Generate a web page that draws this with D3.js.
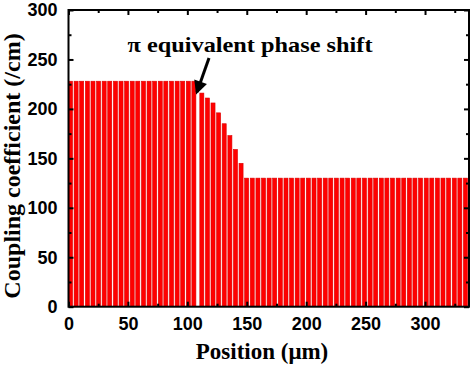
<!DOCTYPE html>
<html>
<head>
<meta charset="utf-8">
<script src="https://cdn.jsdelivr.net/npm/d3@7"></script>
<style>
  html, body { margin: 0; padding: 0; background: #fff; }
  svg { display: block; }
</style>
</head>
<body>
<script>
// grating positions (um) and coupling coefficient (/cm)
const positions = [
    0, 4.7, 9.4, 14.2, 18.9, 23.6, 28.3, 33.0, 37.8, 42.5, 47.2, 51.9,
    56.6, 61.4, 66.1, 70.8, 75.5, 80.2, 85.0, 89.7, 94.4, 99.1, 103.8,
    110.5, 115.2, 119.9, 124.6, 129.3, 134.1, 138.8, 143.5, 148.2, 152.9,
    157.7, 162.4, 167.1, 171.8, 176.5, 181.3, 186.0, 190.7, 195.4, 200.1,
    204.9, 209.6, 214.3, 219.0, 223.7, 228.5, 233.2, 237.9, 242.6, 247.3,
    252.1, 256.8, 261.5, 266.2, 270.9, 275.7, 280.4, 285.1, 289.8, 294.5,
    299.3, 304.0, 308.7, 313.4, 318.1, 322.9, 327.6, 332.3
];
const coupling = [
    228, 228, 228, 228, 228, 228, 228, 228, 228, 228, 228, 228,
    228, 228, 228, 228, 228, 228, 228, 228, 228, 228, 228,
    216, 211, 206, 196, 185, 173, 159, 145, 130, 130,
    130, 130, 130, 130, 130, 130, 130, 130, 130, 130,
    130, 130, 130, 130, 130, 130, 130, 130, 130, 130,
    130, 130, 130, 130, 130, 130, 130, 130, 130, 130,
    130, 130, 130, 130, 130, 130, 130, 130
];
const xTicks = [0, 50, 100, 150, 200, 250, 300];
const xMinor = [25, 75, 125, 175, 225, 275, 325];
const yTicks = [0, 50, 100, 150, 200, 250, 300];
const yMinor = [25, 75, 125, 175, 225, 275];
const barWidth = 3.4; // um

const width = 474, height = 366;
const plotLeft = 68.5, plotRight = 469, plotTop = 10, plotBottom = 306.7;

const svg = d3.select("body")
    .append("svg")
    .attr("width", width)
    .attr("height", height);

const x = d3.scaleLinear().domain([0, 337]).range([plotLeft, plotRight]);
const y = d3.scaleLinear().domain([0, 300]).range([plotBottom, plotTop]);

const data = positions.map((p, i) => ({ p: p, v: coupling[i] }));

// bars
svg.append("g")
    .selectAll("rect")
    .data(data)
    .join("rect")
    .attr("x", d => x(d.p))
    .attr("y", d => y(d.v))
    .attr("width", x(barWidth) - x(0))
    .attr("height", d => y(0) - y(d.v))
    .attr("fill", "#ff0000")
    .attr("stroke", "#dd0000")
    .attr("stroke-width", 0.6);

// axes, ticks point inward
const tickFont = "'Liberation Sans', Arial, sans-serif";

const addAxis = (axis, tx, ty, labels) => {
    const g = svg.append("g")
        .attr("transform", `translate(${tx},${ty})`)
        .call(axis);
    g.select(".domain").remove();
    g.selectAll(".tick line").attr("stroke", "black").attr("stroke-width", 2);
    if (labels) {
        g.selectAll("text")
            .attr("font-family", tickFont)
            .attr("font-weight", "bold")
            .attr("font-size", "18px")
            .attr("fill", "black");
    } else {
        g.selectAll("text").remove();
    }
    return g;
};

addAxis(d3.axisBottom(x).tickValues(xTicks).tickSize(-5).tickPadding(11), 0, plotBottom, true);
addAxis(d3.axisBottom(x).tickValues(xMinor).tickSize(-3), 0, plotBottom, false);
addAxis(d3.axisTop(x).tickValues(xTicks).tickSize(-5), 0, plotTop, false);
addAxis(d3.axisTop(x).tickValues(xMinor).tickSize(-3), 0, plotTop, false);

addAxis(d3.axisLeft(y).tickValues(yTicks).tickSize(-5).tickPadding(11), plotLeft, 0, true);
addAxis(d3.axisLeft(y).tickValues(yMinor).tickSize(-3), plotLeft, 0, false);
addAxis(d3.axisRight(y).tickValues(yTicks).tickSize(-5), plotRight, 0, false);
addAxis(d3.axisRight(y).tickValues(yMinor).tickSize(-3), plotRight, 0, false);

// frame
svg.append("rect")
    .attr("x", plotLeft)
    .attr("y", plotTop)
    .attr("width", plotRight - plotLeft)
    .attr("height", plotBottom - plotTop)
    .attr("fill", "none")
    .attr("stroke", "black")
    .attr("stroke-width", 2);

// titles
const titleFont = "'Liberation Serif', 'Times New Roman', serif";

svg.append("text")
    .attr("x", 262)
    .attr("y", 359)
    .attr("text-anchor", "middle")
    .attr("font-family", titleFont)
    .attr("font-weight", "bold")
    .attr("font-size", "23px")
    .text("Position (\u03bcm)");

svg.append("text")
    .attr("transform", "translate(20,166) rotate(-90)")
    .attr("text-anchor", "middle")
    .attr("font-family", titleFont)
    .attr("font-weight", "bold")
    .attr("font-size", "24px")
    .text("Coupling coefficient (/cm)");

// annotation
svg.append("text")
    .attr("x", 250)
    .attr("y", 52)
    .attr("text-anchor", "middle")
    .attr("font-family", titleFont)
    .attr("font-weight", "bold")
    .attr("font-size", "21px")
    .attr("textLength", 245)
    .attr("lengthAdjust", "spacingAndGlyphs")
    .text("\u03c0 equivalent phase shift");

svg.append("defs").append("marker")
    .attr("id", "head")
    .attr("viewBox", "0 0 10 10")
    .attr("refX", 8)
    .attr("refY", 5)
    .attr("markerWidth", 5)
    .attr("markerHeight", 4.5)
    .attr("orient", "auto")
    .append("path")
    .attr("d", "M0,0L10,5L0,10z")
    .attr("fill", "black");

svg.append("line")
    .attr("x1", 209)
    .attr("y1", 58)
    .attr("x2", 197)
    .attr("y2", 92)
    .attr("stroke", "black")
    .attr("stroke-width", 3)
    .attr("marker-end", "url(#head)");
</script>
</body>
</html>
